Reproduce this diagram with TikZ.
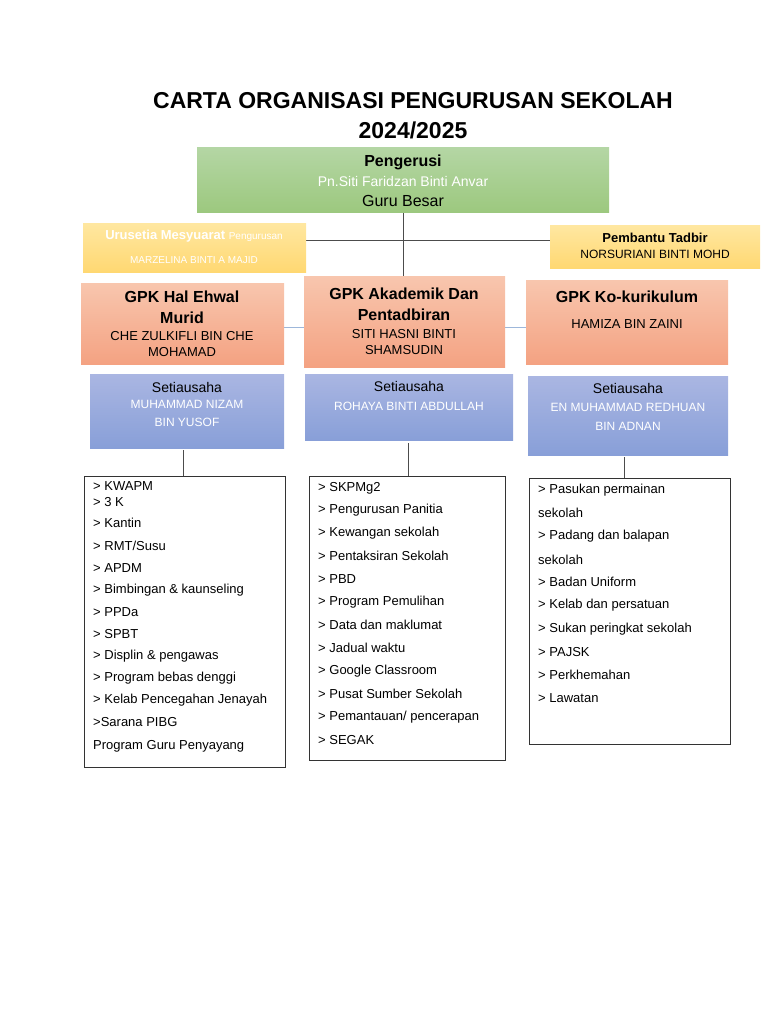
\documentclass[tikz,border=0pt]{standalone}
\usepackage{fontspec}
\setmainfont{Liberation Sans}
\begin{document}
\begin{tikzpicture}[x=1pt,y=-1pt,
 box/.style={draw=none,inner sep=0},
 green/.style={top color=green!30!white!80!black!0,bottom color=green!30},
 lbl/.style={anchor=west,font=\fontsize{13}{15}\selectfont,inner sep=0},
 ln/.style={draw=black!70,line width=1pt}]
\definecolor{gT}{HTML}{B4D6A4}\definecolor{gB}{HTML}{9CC87E}
\definecolor{yT}{HTML}{FFE7A0}\definecolor{yB}{HTML}{FFD872}
\definecolor{oT}{HTML}{F8C6AE}\definecolor{oB}{HTML}{F4A282}
\definecolor{bT}{HTML}{AAB6E2}\definecolor{bB}{HTML}{889FD8}
\definecolor{lb}{HTML}{9DB7DA}
\useasboundingbox (0,0) rectangle (768,1024);
\node[font=\bfseries\fontsize{23}{27}\selectfont] (t1) at (413,101) {CARTA ORGANISASI PENGURUSAN SEKOLAH};
\node[font=\bfseries\fontsize{23}{27}\selectfont] (t2) at (413,130) {2024/2025};
% lines
\coordinate (hl) at (306,240); \coordinate (hr) at (550,240);
\draw[ln] (403,213) -- (403,276);
\draw[ln] (hl) -- (hr);
\draw[lb,line width=1pt] (284,327) -- (304,327) (505,327) -- (526,327);
% boxes
\path[top color=gT,bottom color=gB] (197,148) rectangle (609,213);
\node (p1) at (403,162) {\bfseries\fontsize{16}{18}\selectfont Pengerusi};
\node[text=white] (p2) at (403,181) {\fontsize{14}{16}\selectfont Pn.Siti Faridzan Binti Anvar};
\node (p3) at (403,201) {\fontsize{16}{18}\selectfont Guru Besar};
\path[top color=yT,bottom color=yB] (83,224) rectangle (306,272);
\node[text=white] (u1) at (194,236) {\bfseries\fontsize{13}{15}\selectfont Urusetia Mesyuarat {\mdseries\fontsize{10}{12}\selectfont Pengurusan}};
\node[text=white] (u2) at (194,260) {\fontsize{10}{12}\selectfont MARZELINA BINTI A MAJID};
\path[top color=yT,bottom color=yB] (550,226) rectangle (760,268);
\node (b1) at (655,238) {\bfseries\fontsize{13}{15}\selectfont Pembantu Tadbir};
\node (b2) at (655,254) {\fontsize{12}{14}\selectfont NORSURIANI BINTI MOHD};
% GPK
\path[top color=oT,bottom color=oB] (81,283) rectangle (284,364);
\path[top color=oT,bottom color=oB] (304,276) rectangle (505,367);
\path[top color=oT,bottom color=oB] (526,280) rectangle (728,364);
\node[align=center,font=\bfseries\fontsize{16}{21}\selectfont] (g1) at (182,307) {GPK Hal Ehwal\\Murid};
\node[align=center,font=\fontsize{13}{16}\selectfont] (g1n) at (182,344) {CHE ZULKIFLI BIN CHE\\MOHAMAD};
\node[align=center,font=\bfseries\fontsize{16}{21}\selectfont] (g2) at (404,304) {GPK Akademik Dan\\Pentadbiran};
\node[align=center,font=\fontsize{13}{16}\selectfont] (g2n) at (404,342) {SITI HASNI BINTI\\SHAMSUDIN};
\node[font=\bfseries\fontsize{16}{19}\selectfont] (g3) at (627,297) {GPK Ko-kurikulum};
\node[font=\fontsize{13}{16}\selectfont] (g3n) at (627,324) {HAMIZA BIN ZAINI};
% Setiausaha
\path[top color=bT,bottom color=bB] (90,374) rectangle (284,448);
\path[top color=bT,bottom color=bB] (305,374) rectangle (513,440);
\path[top color=bT,bottom color=bB] (528,376) rectangle (728,455);
\node[font=\fontsize{14}{16}\selectfont] (s1) at (187,387) {Setiausaha};
\node[text=white,align=center,font=\fontsize{12}{18}\selectfont] (s1n) at (187,413) {MUHAMMAD NIZAM\\BIN YUSOF};
\node[font=\fontsize{14}{16}\selectfont] (s2) at (409,386) {Setiausaha};
\node[text=white,font=\fontsize{12}{14}\selectfont] (s2n) at (409,406) {ROHAYA BINTI ABDULLAH};
\node[font=\fontsize{14}{16}\selectfont] (s3) at (628,388) {Setiausaha};
\node[text=white,align=center,font=\fontsize{12}{19}\selectfont] (s3n) at (628,417) {EN MUHAMMAD REDHUAN\\BIN ADNAN};
\draw[ln] (183,450) -- (183,476) (408,443) -- (408,476) (624,457) -- (624,478);
% lists
\draw[black!80] (84,476) rectangle (285,767);
\draw[black!80] (309,476) rectangle (505,760);
\draw[black!80] (529,478) rectangle (730,744);
\foreach \y/\t in {486/{> KWAPM},502/{> 3 K},523/{> Kantin},546/{> RMT/Susu},568/{> APDM},590/{> Bimbingan \& kaunseling},612/{> PPDa},634/{> SPBT},656/{> Displin \& pengawas},678/{> Program bebas denggi},700/{> Kelab Pencegahan Jenayah},722/{>Sarana PIBG},746/{Program Guru Penyayang}}
  \node[lbl] at (93,\y) {\t};
\foreach \y/\t in {488/{> SKPMg2},510/{> Pengurusan Panitia},533/{> Kewangan sekolah},556/{> Pentaksiran Sekolah},579/{> PBD},602/{> Program Pemulihan},625/{> Data dan maklumat},648/{> Jadual waktu},671/{> Google Classroom},694/{> Pusat Sumber Sekolah},717/{> Pemantauan/ pencerapan},740/{> SEGAK}}
  \node[lbl] at (318,\y) {\t};
\foreach \y/\t in {490/{> Pasukan permainan},513/{sekolah},536/{> Padang dan balapan},560/{sekolah},582/{> Badan Uniform},605/{> Kelab dan persatuan},629/{> Sukan peringkat sekolah},652/{> PAJSK},675/{> Perkhemahan},698/{> Lawatan}}
  \node[lbl] at (538,\y) {\t};
\end{tikzpicture}
\end{document}
